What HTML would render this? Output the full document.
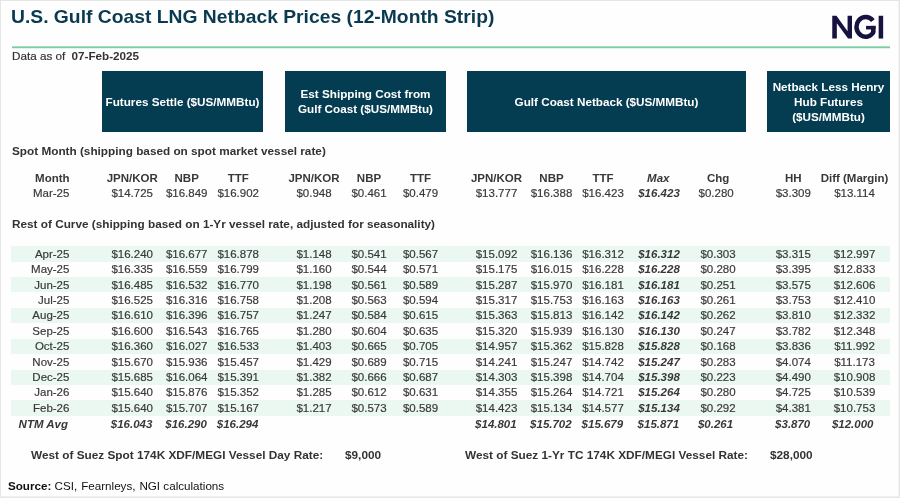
<!DOCTYPE html>
<html><head><meta charset="utf-8"><title>U.S. Gulf Coast LNG Netback Prices</title>
<style>
html,body{margin:0;padding:0;}
body{width:900px;height:498px;position:relative;overflow:hidden;background:#fefefe;font-family:"Liberation Sans",sans-serif;color:#333;}
.frame{position:absolute;left:0;top:0;width:900px;height:498px;box-sizing:border-box;border-left:1px solid #e6e6e6;border-top:1px solid #e6e6e6;border-right:1px solid #e6e6e6;border-bottom:1px solid #e6e6e6;}
.frame:before{content:"";position:absolute;right:0;top:0;bottom:0;width:1px;background:#f3f3f3;}
.frame:after{content:"";position:absolute;left:0;right:0;bottom:0;height:1px;background:#f1f1f1;}
.title{position:absolute;left:11px;top:5.2px;font-size:18.1px;font-weight:bold;color:#0a3a50;white-space:nowrap;line-height:24px;transform-origin:0 0;transform:scaleX(1.066);}
.rule{position:absolute;left:12px;top:46px;width:878px;height:3px;background:linear-gradient(to bottom,#a6dec0 0,#a6dec0 1px,#7ecaa2 1px,#7ecaa2 2px,#e0f3e9 2px,#e0f3e9 3px);}
.asof{position:absolute;left:12px;top:49px;font-size:11.7px;line-height:14px;color:#333;white-space:nowrap;}
.asof{-webkit-text-stroke:0.18px #333;}
.asof b{margin-left:3px;-webkit-text-stroke:0;}
.hb{position:absolute;top:70.7px;height:61px;box-sizing:border-box;padding-top:2px;background:#043c51;color:#fff;font-weight:bold;font-size:11.7px;line-height:14.9px;display:flex;align-items:center;justify-content:center;text-align:center;}
.c{position:absolute;width:100px;text-align:center;font-size:11.5px;line-height:14px;white-space:nowrap;color:#383838;-webkit-text-stroke:0.18px #383838;}
.r{text-align:right;}
.b{font-weight:bold;-webkit-text-stroke:0;}
.i{font-style:italic;font-weight:normal;}
.bi{font-weight:bold;font-style:italic;-webkit-text-stroke:0;}
.st{position:absolute;left:10.5px;width:879px;background:#ebf8f2;}
.sec{position:absolute;left:12px;font-size:11.77px;font-weight:bold;line-height:14px;white-space:nowrap;color:#333;}
.ves{position:absolute;font-size:11.8px;font-weight:bold;line-height:14px;white-space:nowrap;color:#333;}
.src{position:absolute;left:8px;top:479px;font-size:11.65px;line-height:14px;white-space:nowrap;color:#111;}
.g{display:inline-block;width:0.7px;}
.logo{position:absolute;left:825px;top:8px;}
.layer{position:absolute;left:0;top:0;width:900px;height:498px;will-change:transform;}
.inner{position:absolute;left:0;top:0;width:900px;height:498px;}
</style></head><body>
<div class="layer"><div class="inner">
<div class="frame"></div>
<div class="title">U.S. Gulf Coast LNG Netback Prices (12-Month Strip)</div>
<svg class="logo" width="70" height="38" viewBox="0 0 900 489"><g fill="#17123f">
<path d="M93,393 L93,100 L147,100 L290,298 L290,100 L347,100 L347,393 L296,393 L152,196 L152,393 Z"/>
<rect x="690" y="100" width="58" height="293"/>
<rect x="528" y="230" width="122" height="46"/>
<rect x="592" y="230" width="58" height="80"/>
</g>
<clipPath id="gc"><rect x="0" y="0" width="650" height="489"/></clipPath><path clip-path="url(#gc)" d="M 616,163 A 119,126 0 1 0 632,296" fill="none" stroke="#17123f" stroke-width="58"/>
</svg>
<div class="rule"></div>
<div class="asof">Data as of <b>07-Feb-2025</b></div>
<div class="hb" style="left:102px;width:161px">Futures Settle ($US/MMBtu)</div>
<div class="hb" style="left:285px;width:161px">Est Shipping Cost from<br>Gulf Coast ($US/MMBtu)</div>
<div class="hb" style="left:467px;width:279px">Gulf Coast Netback ($US/MMBtu)</div>
<div class="hb" style="left:767px;width:123px">Netback Less Henry<br>Hub Futures<br>($US/MMBtu)</div>
<div class="sec" style="top:144.3px">Spot Month (shipping based on spot market vessel rate)</div>
<div class="sec" style="top:216.6px">Rest of Curve (shipping based on 1-Yr vessel rate, adjusted for seasonality)</div>
<div class="c b" style="left:2.30px;top:171.00px">Month</div>
<div class="c b" style="left:82.20px;top:171.00px">JPN/KOR</div>
<div class="c b" style="left:136.70px;top:171.00px">NBP</div>
<div class="c b" style="left:188.20px;top:171.00px">TTF</div>
<div class="c b" style="left:264.00px;top:171.00px">JPN/KOR</div>
<div class="c b" style="left:319.00px;top:171.00px">NBP</div>
<div class="c b" style="left:370.50px;top:171.00px">TTF</div>
<div class="c b" style="left:446.50px;top:171.00px">JPN/KOR</div>
<div class="c b" style="left:501.50px;top:171.00px">NBP</div>
<div class="c b" style="left:553.00px;top:171.00px">TTF</div>
<div class="c bi" style="left:608.30px;top:171.00px">Max</div>
<div class="c b" style="left:668.20px;top:171.00px">Chg</div>
<div class="c b" style="left:743.30px;top:171.00px">HH</div>
<div class="c b" style="left:804.50px;top:171.00px">Diff (Margin)</div>
<div class="c r " style="left:-30.60px;top:185.50px">Mar-25</div>
<div class="c " style="left:82.20px;top:185.50px">$14.725</div>
<div class="c " style="left:136.70px;top:185.50px">$16.849</div>
<div class="c " style="left:188.20px;top:185.50px">$16.902</div>
<div class="c " style="left:264.00px;top:185.50px">$0.948</div>
<div class="c " style="left:319.00px;top:185.50px">$0.461</div>
<div class="c " style="left:370.50px;top:185.50px">$0.479</div>
<div class="c " style="left:446.50px;top:185.50px">$13.777</div>
<div class="c " style="left:501.50px;top:185.50px">$16.388</div>
<div class="c " style="left:553.00px;top:185.50px">$16.423</div>
<div class="c bi" style="left:609.00px;top:185.50px">$16.423</div>
<div class="c " style="left:666.10px;top:185.50px">$0.280</div>
<div class="c " style="left:743.30px;top:185.50px">$3.309</div>
<div class="c " style="left:804.50px;top:185.50px">$13.114</div>
<div class="st" style="top:246.30px;height:15.40px"></div>
<div class="c r " style="left:-30.60px;top:246.80px">Apr-25</div>
<div class="c " style="left:82.20px;top:246.80px">$16.240</div>
<div class="c " style="left:136.70px;top:246.80px">$16.677</div>
<div class="c " style="left:188.20px;top:246.80px">$16.878</div>
<div class="c " style="left:264.00px;top:246.80px">$1.148</div>
<div class="c " style="left:319.00px;top:246.80px">$0.541</div>
<div class="c " style="left:370.50px;top:246.80px">$0.567</div>
<div class="c " style="left:446.50px;top:246.80px">$15.092</div>
<div class="c " style="left:501.50px;top:246.80px">$16.136</div>
<div class="c " style="left:553.00px;top:246.80px">$16.312</div>
<div class="c bi" style="left:609.00px;top:246.80px">$16.312</div>
<div class="c " style="left:668.00px;top:246.80px">$0.303</div>
<div class="c " style="left:743.30px;top:246.80px">$3.315</div>
<div class="c " style="left:804.50px;top:246.80px">$12.997</div>
<div class="c r " style="left:-30.60px;top:262.20px">May-25</div>
<div class="c " style="left:82.20px;top:262.20px">$16.335</div>
<div class="c " style="left:136.70px;top:262.20px">$16.559</div>
<div class="c " style="left:188.20px;top:262.20px">$16.799</div>
<div class="c " style="left:264.00px;top:262.20px">$1.160</div>
<div class="c " style="left:319.00px;top:262.20px">$0.544</div>
<div class="c " style="left:370.50px;top:262.20px">$0.571</div>
<div class="c " style="left:446.50px;top:262.20px">$15.175</div>
<div class="c " style="left:501.50px;top:262.20px">$16.015</div>
<div class="c " style="left:553.00px;top:262.20px">$16.228</div>
<div class="c bi" style="left:609.00px;top:262.20px">$16.228</div>
<div class="c " style="left:668.00px;top:262.20px">$0.280</div>
<div class="c " style="left:743.30px;top:262.20px">$3.395</div>
<div class="c " style="left:804.50px;top:262.20px">$12.833</div>
<div class="st" style="top:277.10px;height:15.40px"></div>
<div class="c r " style="left:-30.60px;top:277.60px">Jun-25</div>
<div class="c " style="left:82.20px;top:277.60px">$16.485</div>
<div class="c " style="left:136.70px;top:277.60px">$16.532</div>
<div class="c " style="left:188.20px;top:277.60px">$16.770</div>
<div class="c " style="left:264.00px;top:277.60px">$1.198</div>
<div class="c " style="left:319.00px;top:277.60px">$0.561</div>
<div class="c " style="left:370.50px;top:277.60px">$0.589</div>
<div class="c " style="left:446.50px;top:277.60px">$15.287</div>
<div class="c " style="left:501.50px;top:277.60px">$15.970</div>
<div class="c " style="left:553.00px;top:277.60px">$16.181</div>
<div class="c bi" style="left:609.00px;top:277.60px">$16.181</div>
<div class="c " style="left:668.00px;top:277.60px">$0.251</div>
<div class="c " style="left:743.30px;top:277.60px">$3.575</div>
<div class="c " style="left:804.50px;top:277.60px">$12.606</div>
<div class="c r " style="left:-30.60px;top:293.00px">Jul-25</div>
<div class="c " style="left:82.20px;top:293.00px">$16.525</div>
<div class="c " style="left:136.70px;top:293.00px">$16.316</div>
<div class="c " style="left:188.20px;top:293.00px">$16.758</div>
<div class="c " style="left:264.00px;top:293.00px">$1.208</div>
<div class="c " style="left:319.00px;top:293.00px">$0.563</div>
<div class="c " style="left:370.50px;top:293.00px">$0.594</div>
<div class="c " style="left:446.50px;top:293.00px">$15.317</div>
<div class="c " style="left:501.50px;top:293.00px">$15.753</div>
<div class="c " style="left:553.00px;top:293.00px">$16.163</div>
<div class="c bi" style="left:609.00px;top:293.00px">$16.163</div>
<div class="c " style="left:668.00px;top:293.00px">$0.261</div>
<div class="c " style="left:743.30px;top:293.00px">$3.753</div>
<div class="c " style="left:804.50px;top:293.00px">$12.410</div>
<div class="st" style="top:307.90px;height:15.40px"></div>
<div class="c r " style="left:-30.60px;top:308.40px">Aug-25</div>
<div class="c " style="left:82.20px;top:308.40px">$16.610</div>
<div class="c " style="left:136.70px;top:308.40px">$16.396</div>
<div class="c " style="left:188.20px;top:308.40px">$16.757</div>
<div class="c " style="left:264.00px;top:308.40px">$1.247</div>
<div class="c " style="left:319.00px;top:308.40px">$0.584</div>
<div class="c " style="left:370.50px;top:308.40px">$0.615</div>
<div class="c " style="left:446.50px;top:308.40px">$15.363</div>
<div class="c " style="left:501.50px;top:308.40px">$15.813</div>
<div class="c " style="left:553.00px;top:308.40px">$16.142</div>
<div class="c bi" style="left:609.00px;top:308.40px">$16.142</div>
<div class="c " style="left:668.00px;top:308.40px">$0.262</div>
<div class="c " style="left:743.30px;top:308.40px">$3.810</div>
<div class="c " style="left:804.50px;top:308.40px">$12.332</div>
<div class="c r " style="left:-30.60px;top:323.80px">Sep-25</div>
<div class="c " style="left:82.20px;top:323.80px">$16.600</div>
<div class="c " style="left:136.70px;top:323.80px">$16.543</div>
<div class="c " style="left:188.20px;top:323.80px">$16.765</div>
<div class="c " style="left:264.00px;top:323.80px">$1.280</div>
<div class="c " style="left:319.00px;top:323.80px">$0.604</div>
<div class="c " style="left:370.50px;top:323.80px">$0.635</div>
<div class="c " style="left:446.50px;top:323.80px">$15.320</div>
<div class="c " style="left:501.50px;top:323.80px">$15.939</div>
<div class="c " style="left:553.00px;top:323.80px">$16.130</div>
<div class="c bi" style="left:609.00px;top:323.80px">$16.130</div>
<div class="c " style="left:668.00px;top:323.80px">$0.247</div>
<div class="c " style="left:743.30px;top:323.80px">$3.782</div>
<div class="c " style="left:804.50px;top:323.80px">$12.348</div>
<div class="st" style="top:338.70px;height:15.40px"></div>
<div class="c r " style="left:-30.60px;top:339.20px">Oct-25</div>
<div class="c " style="left:82.20px;top:339.20px">$16.360</div>
<div class="c " style="left:136.70px;top:339.20px">$16.027</div>
<div class="c " style="left:188.20px;top:339.20px">$16.533</div>
<div class="c " style="left:264.00px;top:339.20px">$1.403</div>
<div class="c " style="left:319.00px;top:339.20px">$0.665</div>
<div class="c " style="left:370.50px;top:339.20px">$0.705</div>
<div class="c " style="left:446.50px;top:339.20px">$14.957</div>
<div class="c " style="left:501.50px;top:339.20px">$15.362</div>
<div class="c " style="left:553.00px;top:339.20px">$15.828</div>
<div class="c bi" style="left:609.00px;top:339.20px">$15.828</div>
<div class="c " style="left:668.00px;top:339.20px">$0.168</div>
<div class="c " style="left:743.30px;top:339.20px">$3.836</div>
<div class="c " style="left:804.50px;top:339.20px">$11.992</div>
<div class="c r " style="left:-30.60px;top:354.60px">Nov-25</div>
<div class="c " style="left:82.20px;top:354.60px">$15.670</div>
<div class="c " style="left:136.70px;top:354.60px">$15.936</div>
<div class="c " style="left:188.20px;top:354.60px">$15.457</div>
<div class="c " style="left:264.00px;top:354.60px">$1.429</div>
<div class="c " style="left:319.00px;top:354.60px">$0.689</div>
<div class="c " style="left:370.50px;top:354.60px">$0.715</div>
<div class="c " style="left:446.50px;top:354.60px">$14.241</div>
<div class="c " style="left:501.50px;top:354.60px">$15.247</div>
<div class="c " style="left:553.00px;top:354.60px">$14.742</div>
<div class="c bi" style="left:609.00px;top:354.60px">$15.247</div>
<div class="c " style="left:668.00px;top:354.60px">$0.283</div>
<div class="c " style="left:743.30px;top:354.60px">$4.074</div>
<div class="c " style="left:804.50px;top:354.60px">$11.173</div>
<div class="st" style="top:369.50px;height:15.40px"></div>
<div class="c r " style="left:-30.60px;top:370.00px">Dec-25</div>
<div class="c " style="left:82.20px;top:370.00px">$15.685</div>
<div class="c " style="left:136.70px;top:370.00px">$16.064</div>
<div class="c " style="left:188.20px;top:370.00px">$15.391</div>
<div class="c " style="left:264.00px;top:370.00px">$1.382</div>
<div class="c " style="left:319.00px;top:370.00px">$0.666</div>
<div class="c " style="left:370.50px;top:370.00px">$0.687</div>
<div class="c " style="left:446.50px;top:370.00px">$14.303</div>
<div class="c " style="left:501.50px;top:370.00px">$15.398</div>
<div class="c " style="left:553.00px;top:370.00px">$14.704</div>
<div class="c bi" style="left:609.00px;top:370.00px">$15.398</div>
<div class="c " style="left:668.00px;top:370.00px">$0.223</div>
<div class="c " style="left:743.30px;top:370.00px">$4.490</div>
<div class="c " style="left:804.50px;top:370.00px">$10.908</div>
<div class="c r " style="left:-30.60px;top:385.40px">Jan-26</div>
<div class="c " style="left:82.20px;top:385.40px">$15.640</div>
<div class="c " style="left:136.70px;top:385.40px">$15.876</div>
<div class="c " style="left:188.20px;top:385.40px">$15.352</div>
<div class="c " style="left:264.00px;top:385.40px">$1.285</div>
<div class="c " style="left:319.00px;top:385.40px">$0.612</div>
<div class="c " style="left:370.50px;top:385.40px">$0.631</div>
<div class="c " style="left:446.50px;top:385.40px">$14.355</div>
<div class="c " style="left:501.50px;top:385.40px">$15.264</div>
<div class="c " style="left:553.00px;top:385.40px">$14.721</div>
<div class="c bi" style="left:609.00px;top:385.40px">$15.264</div>
<div class="c " style="left:668.00px;top:385.40px">$0.280</div>
<div class="c " style="left:743.30px;top:385.40px">$4.725</div>
<div class="c " style="left:804.50px;top:385.40px">$10.539</div>
<div class="st" style="top:400.30px;height:15.40px"></div>
<div class="c r " style="left:-30.60px;top:400.80px">Feb-26</div>
<div class="c " style="left:82.20px;top:400.80px">$15.640</div>
<div class="c " style="left:136.70px;top:400.80px">$15.707</div>
<div class="c " style="left:188.20px;top:400.80px">$15.167</div>
<div class="c " style="left:264.00px;top:400.80px">$1.217</div>
<div class="c " style="left:319.00px;top:400.80px">$0.573</div>
<div class="c " style="left:370.50px;top:400.80px">$0.589</div>
<div class="c " style="left:446.50px;top:400.80px">$14.423</div>
<div class="c " style="left:501.50px;top:400.80px">$15.134</div>
<div class="c " style="left:553.00px;top:400.80px">$14.577</div>
<div class="c bi" style="left:609.00px;top:400.80px">$15.134</div>
<div class="c " style="left:668.00px;top:400.80px">$0.292</div>
<div class="c " style="left:743.30px;top:400.80px">$4.381</div>
<div class="c " style="left:804.50px;top:400.80px">$10.753</div>
<div class="c bi" style="left:-6.70px;top:417.10px">NTM Avg</div>
<div class="c bi" style="left:81.60px;top:417.10px">$16.043</div>
<div class="c bi" style="left:136.10px;top:417.10px">$16.290</div>
<div class="c bi" style="left:187.60px;top:417.10px">$16.294</div>
<div class="c bi" style="left:445.90px;top:417.10px">$14.801</div>
<div class="c bi" style="left:500.90px;top:417.10px">$15.702</div>
<div class="c bi" style="left:552.40px;top:417.10px">$15.679</div>
<div class="c bi" style="left:608.40px;top:417.10px">$15.871</div>
<div class="c bi" style="left:665.50px;top:417.10px">$0.261</div>
<div class="c bi" style="left:742.70px;top:417.10px">$3.870</div>
<div class="c bi" style="left:802.70px;top:417.10px">$12.000</div>
<div class="ves" style="left:31px;top:447.5px">West of Suez Spot 174K XDF/MEGI Vessel Day Rate:</div>
<div class="ves" style="left:345px;top:447.5px">$9,000</div>
<div class="ves" style="left:465px;top:447.5px">West of Suez 1-Yr TC 174K XDF/MEGI Vessel Rate:</div>
<div class="ves" style="left:770px;top:447.5px">$28,000</div>
<div class="src"><b>Source:</b> CSI,<span class="g"></span> Fearnleys,<span class="g"></span> NGI calculations</div>
</div></div>
</body></html>
